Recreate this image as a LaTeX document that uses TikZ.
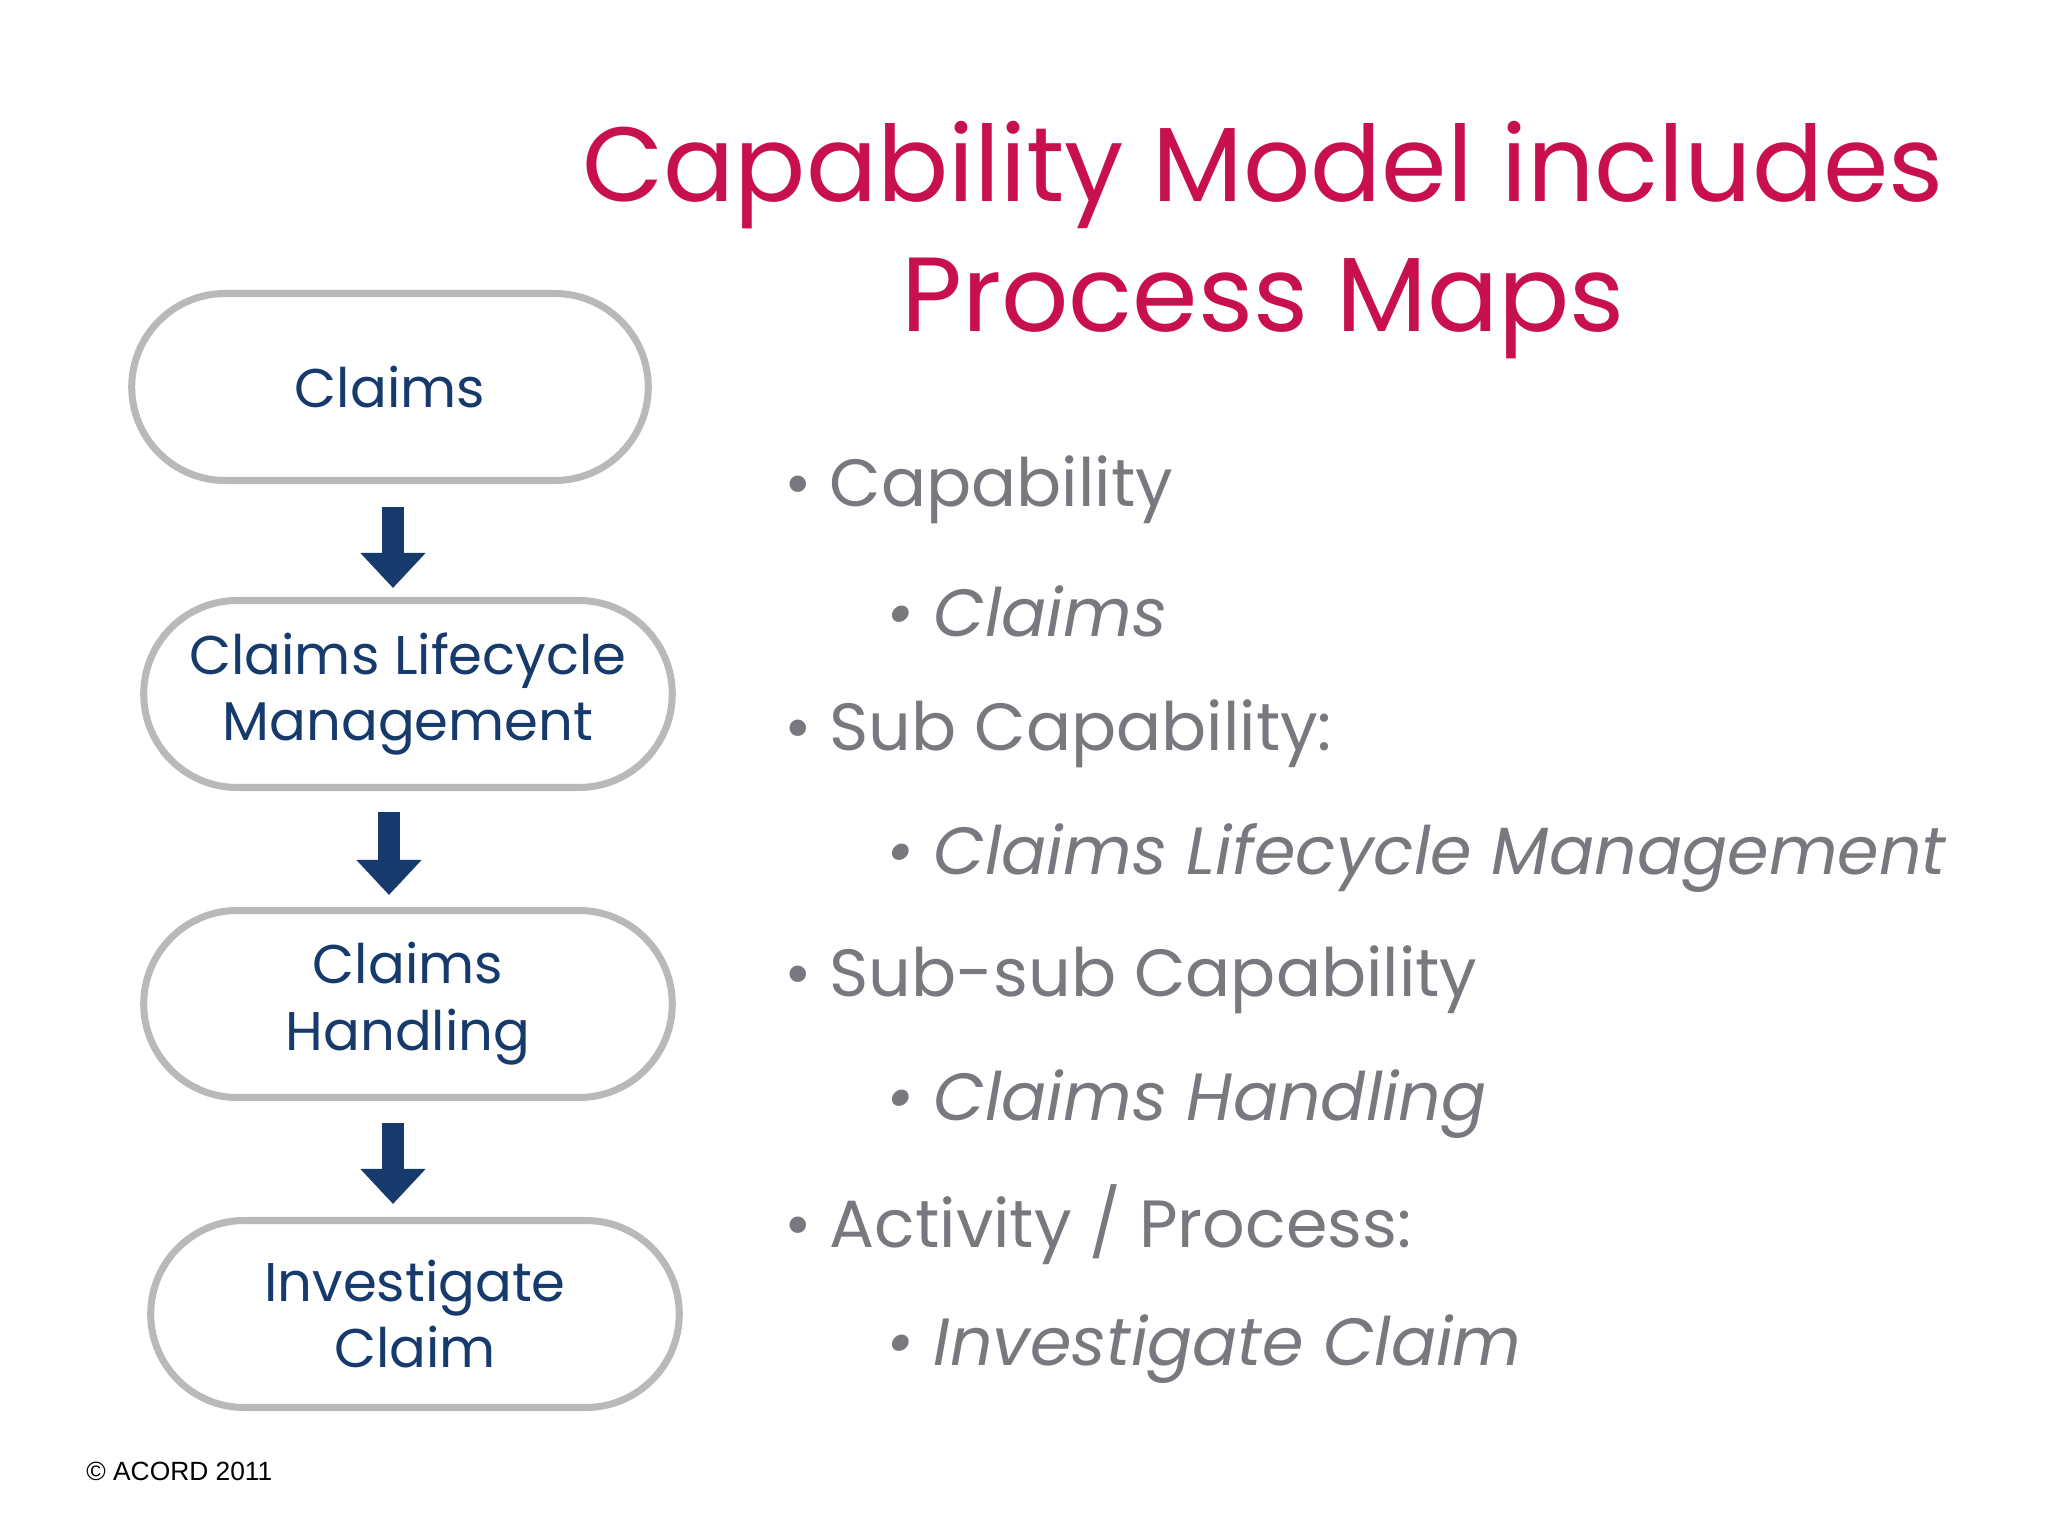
\documentclass[tikz,border=0pt]{standalone}
\usepackage{fontspec}
\setmainfont{Poppins}
\newfontfamily\arialf{Liberation Sans}
\definecolor{titlec}{RGB}{200,16,80}
\definecolor{navyc}{RGB}{22,58,108}
\definecolor{grayt}{RGB}{120,120,126}
\usetikzlibrary{shapes.misc,arrows.meta}
\tikzset{
 pill/.style={rounded rectangle, draw=gray!55, line width=2pt, fill=white, align=center, text=navyc, font=\fontsize{15.5}{19}\selectfont, minimum height=1.87cm},
 darr/.style={-{Triangle[length=10pt,width=18pt]}, line width=6pt, navyc},
 lv1/.style={anchor=west, text=grayt, font=\fontsize{19}{23}\selectfont},
 lv2/.style={anchor=west, text=grayt, font=\fontsize{19}{23}\selectfont\itshape},
}
\begin{document}
\begin{tikzpicture}
\useasboundingbox (0,0) rectangle (20.48,-15.36);
\fill[white] (0,0) rectangle (20.48,-15.36);
\node[text=titlec, font=\fontsize{30}{37}\selectfont, align=center] (title) at (12.63,-2.40) {Capability Model includes\\Process Maps};
\node[pill, minimum width=5.40cm] (b1) at (3.90,-3.87) {Claims};
\node[pill, minimum width=5.52cm] (b2) at (4.08,-6.94) {Claims Lifecycle\\Management};
\node[pill, minimum width=5.52cm] (b3) at (4.08,-10.04) {Claims\\Handling};
\node[pill, minimum width=5.52cm] (b4) at (4.15,-13.14) {Investigate\\Claim};
\coordinate (a1s) at (3.93,-5.07); \coordinate (a1e) at (3.93,-5.88);
\coordinate (a2s) at (3.89,-8.12); \coordinate (a2e) at (3.89,-8.95);
\coordinate (a3s) at (3.93,-11.23); \coordinate (a3e) at (3.93,-12.04);
\draw[darr] (a1s) -- (a1e);
\draw[darr] (a2s) -- (a2e);
\draw[darr] (a3s) -- (a3e);
\node[lv1] (t1) at (7.72,-4.90) {• Capability};
\node[lv2] (t2) at (8.74,-6.11) {• Claims};
\node[lv1] (t3) at (7.72,-7.34) {• Sub Capability:};
\node[lv2] (t4) at (8.74,-8.58) {• Claims Lifecycle Management};
\node[lv1] (t5) at (7.72,-9.80) {• Sub-sub Capability};
\node[lv2] (t6) at (8.74,-11.04) {• Claims Handling};
\node[lv1] (t7) at (7.72,-12.25) {• Activity / Process:};
\node[lv2] (t8) at (8.74,-13.49) {• Investigate Claim};
\node[anchor=west, font=\arialf\fontsize{7.5}{9}\selectfont] (cp) at (0.74,-14.71) {© ACORD 2011};
\end{tikzpicture}
\end{document}
